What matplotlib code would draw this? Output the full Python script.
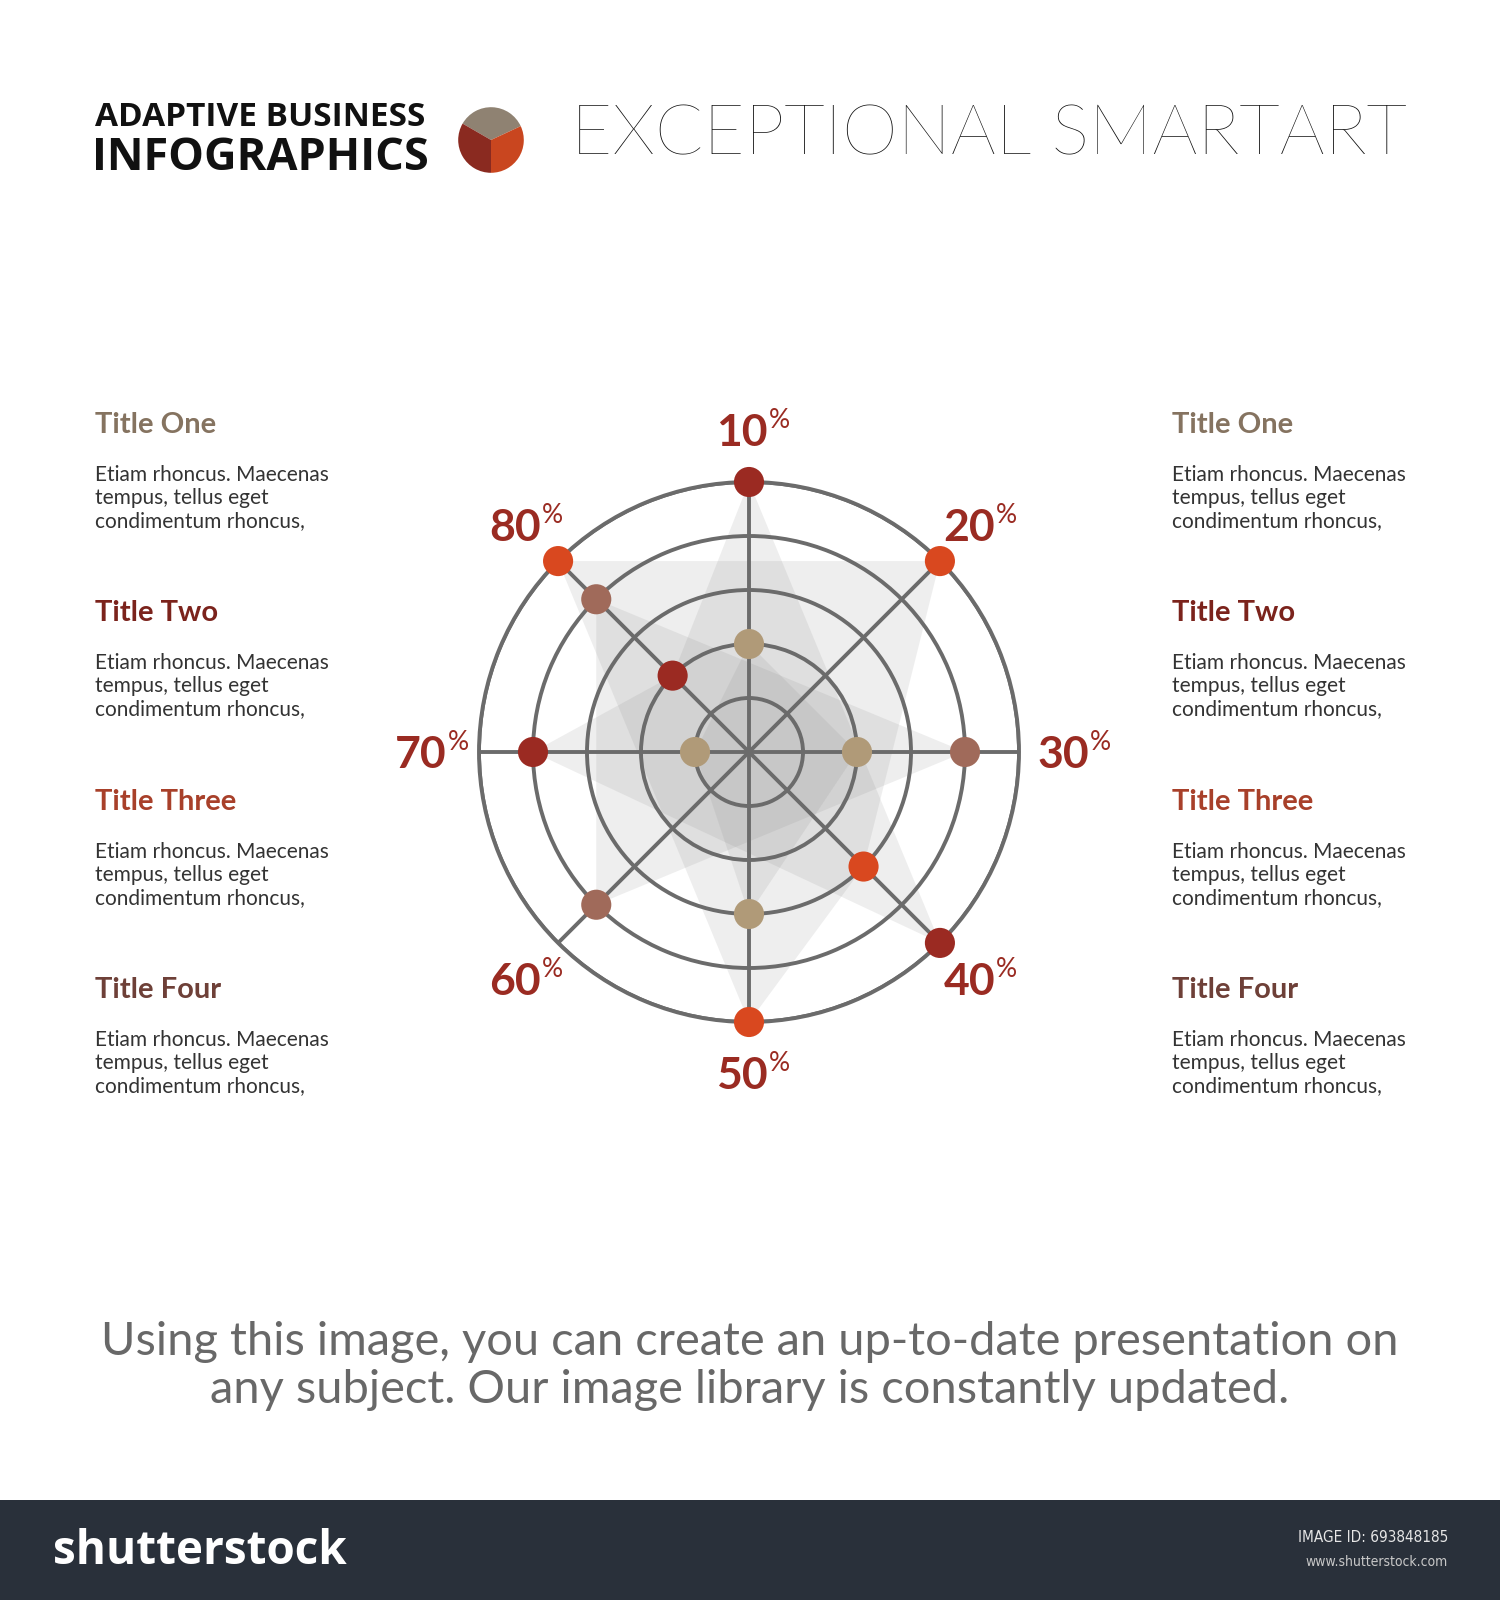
import numpy as np
import matplotlib
matplotlib.use("Agg")
import matplotlib.pyplot as plt
from matplotlib.patches import Rectangle

# ---- data -------------------------------------------------------------
axis_labels = ["10", "20", "30", "40", "50", "60", "70", "80"]
ring_levels = [1, 2, 3, 4, 5]

# value (ring) of each highlighted point per axis, None where the series has no dot
tan_values = [2, None, 2, None, 3, None, 1, None]
red_values = [5, None, None, 5, None, None, 4, 2]
orange_values = [None, 5, None, 3, 5, None, None, 5]
brown_values = [None, None, 4, None, None, 4, None, 4]

series_values = [tan_values, red_values, orange_values, brown_values]
series_colors = ["#b09a78", "#9b2a22", "#d9481f", "#a06a5a"]

block_titles = ["Title One", "Title Two", "Title Three", "Title Four"]
block_colors = ["#857360", "#7b231c", "#a8402a", "#6e4038"]
block_body = "Etiam rhoncus. Maecenas\ntempus, tellus eget\ncondimentum rhoncus,"

logo_shares = [125, 120, 115]
logo_colors = ["#8f8272", "#8a2a20", "#c9461f"]

GRID_COLOR = "#6b6b6b"
LABEL_COLOR = "#9a2b22"
FONT = "Lato"

fig = plt.figure(figsize=(15, 16), dpi=100)
fig.patch.set_facecolor("white")

# ---- radar ------------------------------------------------------------
cx, cy, rad = 749 / 1500, 1 - 752 / 1600, 270
ax = fig.add_axes([cx - rad / 1500, cy - rad / 1600, 2 * rad / 1500, 2 * rad / 1600],
                  projection="polar")
ax.set_theta_zero_location("N")
ax.set_theta_direction(-1)
ax.set_ylim(0, 5)
ax.set_facecolor("none")

thetas = np.deg2rad(np.arange(len(axis_labels)) * 360 / len(axis_labels))

ax.set_rgrids(ring_levels, labels=[""] * len(ring_levels))
ax.set_thetagrids(np.rad2deg(thetas), labels=[""] * len(thetas))
ax.grid(True, color=GRID_COLOR, linewidth=2.8)
ax.spines["polar"].set_color(GRID_COLOR)
ax.spines["polar"].set_linewidth(2.8)
ax.set_axisbelow(False)

for values, color in zip(series_values, series_colors):
    th = [t for t, v in zip(thetas, values) if v is not None]
    rr = [v for v in values if v is not None]
    # shaded shape behind the grid
    ax.fill(th + th[:1], rr + rr[:1], color="#7f7f7f", alpha=0.13, linewidth=0, zorder=0.5)
    ax.scatter(th, rr, s=470, color=color, edgecolor="none", zorder=6, clip_on=False)

for t, lab in zip(thetas, axis_labels):
    ax.annotate(lab, xy=(t, 5.95), xytext=(-5, -2), textcoords="offset points",
                ha="center", va="center", fontsize=32, fontweight="bold",
                color=LABEL_COLOR, family=FONT, annotation_clip=False)
    ax.annotate("%", xy=(t, 5.95), xytext=(22, 7), textcoords="offset points",
                ha="center", va="center", fontsize=19, color=LABEL_COLOR, family=FONT,
                annotation_clip=False)

# ---- header -----------------------------------------------------------
fig.text(95 / 1500, 1 - 118 / 1600, "ADAPTIVE BUSINESS", fontsize=24, fontweight="bold",
         family="Open Sans", va="center", ha="left", color="#111111")
fig.text(92 / 1500, 1 - 158 / 1600, "INFOGRAPHICS", fontsize=32.5, fontweight="bold",
         family="Open Sans", va="center", ha="left", color="#111111")
fig.text(571 / 1500, 1 - 136 / 1600, "EXCEPTIONAL SMARTART", fontsize=51,
         fontweight="light", family=FONT, va="center", ha="left", color="#111111")

lax = fig.add_axes([(491 - 41) / 1500, 1 - (140 + 41) / 1600, 82 / 1500, 82 / 1600])
lax.pie(logo_shares, colors=logo_colors, startangle=25, counterclock=True,
        wedgeprops=dict(linewidth=0))
lax.set_aspect("equal")

# ---- side text blocks -------------------------------------------------
title_y = [425, 613, 802, 990]
for x0 in (95, 1172):
    for title, color, ty in zip(block_titles, block_colors, title_y):
        fig.text(x0 / 1500, 1 - ty / 1600, title, fontsize=21, fontweight="bold",
                 color=color, family=FONT, va="center", ha="left")
        fig.text(x0 / 1500, 1 - (ty + 40) / 1600, block_body, fontsize=15,
                 color="#333333", family=FONT, va="top", ha="left", linespacing=1.2)

# ---- bottom note ------------------------------------------------------
fig.text(0.5, 1 - 1366 / 1600,
         "Using this image, you can create an up-to-date presentation on\n"
         "any subject. Our image library is constantly updated.",
         fontsize=33.8, color="#686868", family=FONT,
         ha="center", va="center", linespacing=1.2)

# ---- footer bar -------------------------------------------------------
fig.patches.append(Rectangle((0, 0), 1, 100 / 1600, transform=fig.transFigure,
                             facecolor="#29303a", edgecolor="none", zorder=0))
fig.text(53 / 1500, 1 - 1552 / 1600, "shutterstock", fontsize=33, fontweight="bold",
         color="white", family="Open Sans", va="center", ha="left")
fig.text(1448 / 1500, 1 - 1538 / 1600, "IMAGE ID: 693848185", fontsize=11,
         color="#e6e6e6", family="DejaVu Sans", stretch="condensed", va="center", ha="right")
fig.text(1448 / 1500, 1 - 1562 / 1600, "www.shutterstock.com", fontsize=10,
         color="#c8c8c8", family="DejaVu Sans", stretch="condensed", va="center", ha="right")

fig.savefig("out.png", dpi=100, facecolor="white")
